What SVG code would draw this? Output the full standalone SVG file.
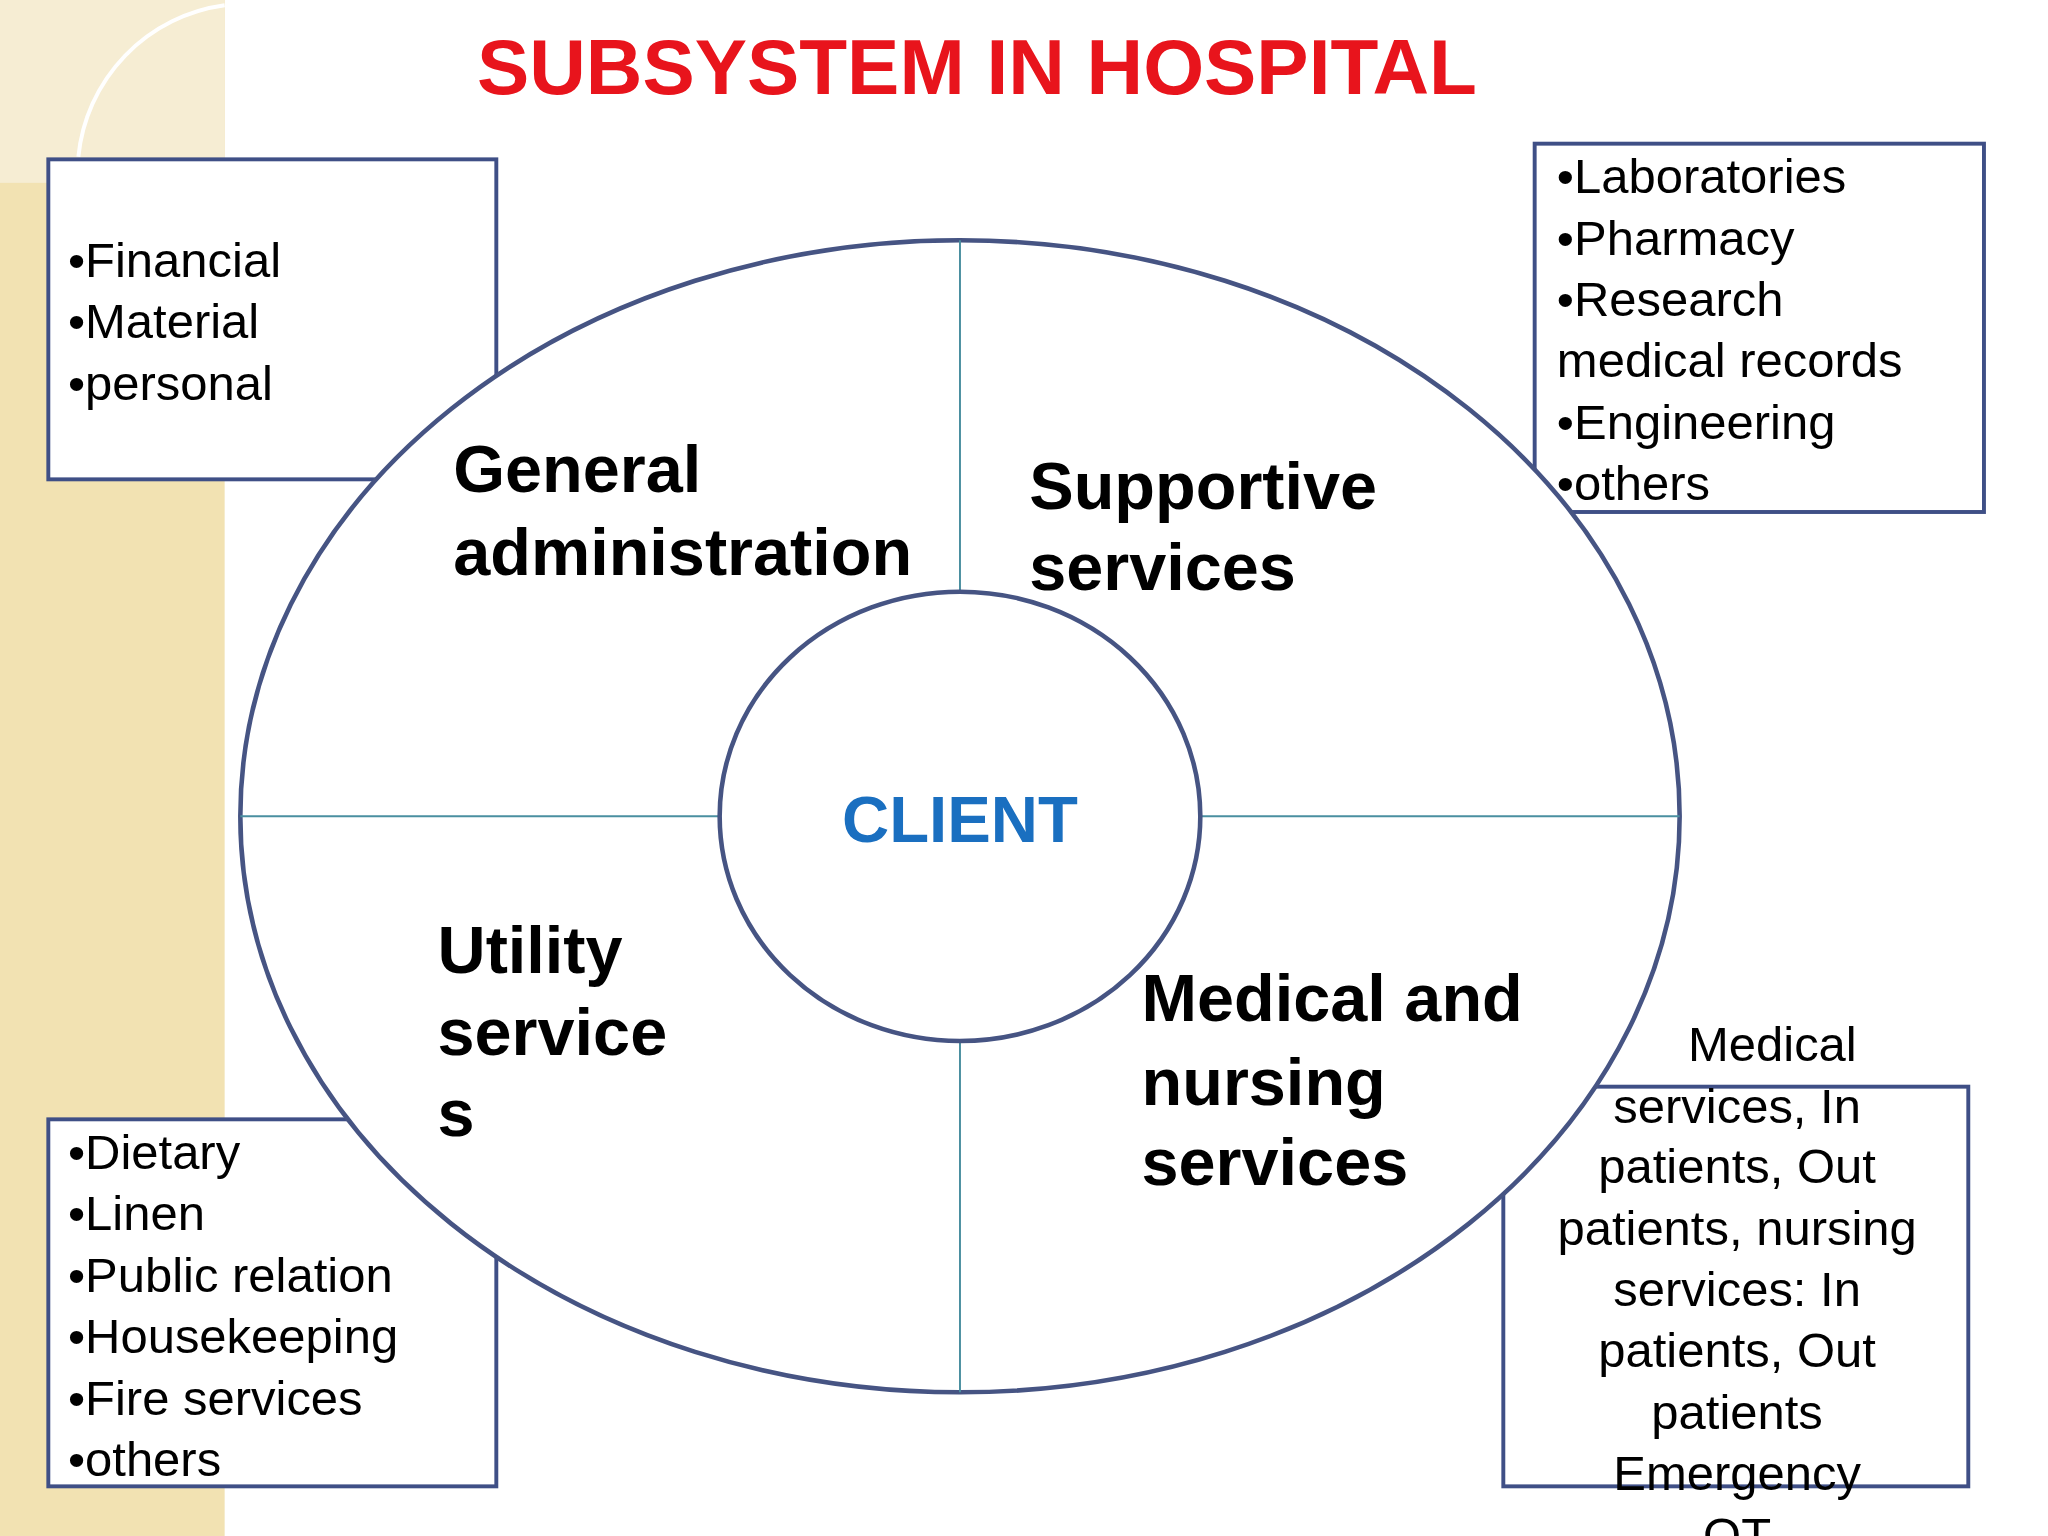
<svg xmlns="http://www.w3.org/2000/svg" width="2048" height="1536" viewBox="0 0 2048 1536">
<style>
.box{fill:#fff;stroke:#3f4f86;stroke-width:3}
.ring{fill:#fff;stroke:#465483;stroke-width:3.5}
.div{stroke:#4a8fa0;stroke-width:1.5}
.sec{font-family:"Liberation Sans",Arial,sans-serif;font-weight:bold;font-size:51px;fill:#000}
.lst{font-family:"Liberation Sans",Arial,sans-serif;font-size:37.5px;fill:#000}
</style>
<rect width="2048" height="1536" fill="#fff"/>
<g transform="scale(1.3061)">
<g id="background">
<rect x="0" y="0" width="172" height="1176" fill="#f2e2b2"/>
<rect x="0" y="0" width="172" height="140" fill="#f6edd3"/>
<path d="M172 4 A130 130 0 0 0 60 120" fill="none" stroke="#fff" stroke-width="3"/>
</g>
<text id="title" x="748" y="72" text-anchor="middle" font-family="Liberation Sans,Arial,sans-serif" font-weight="bold" font-size="60" fill="#e8141c">SUBSYSTEM IN HOSPITAL</text>
<g id="boxes">
<rect class="box" x="37" y="122" width="343" height="245"/>
<rect class="box" x="1175" y="110" width="344" height="282"/>
<rect class="box" x="37" y="857" width="343" height="281"/>
<rect class="box" x="1151" y="832" width="356" height="306"/>
</g>
<g id="outer"><ellipse class="ring" cx="735" cy="625" rx="551" ry="441"/></g>
<g id="connectors">
<line class="div" x1="735" y1="184" x2="735" y2="453"/>
<line class="div" x1="735" y1="797" x2="735" y2="1066"/>
<line class="div" x1="184" y1="625" x2="551" y2="625"/>
<line class="div" x1="919" y1="625" x2="1286" y2="625"/>
</g>
<g id="client"><ellipse class="ring" cx="735" cy="625" rx="184" ry="172"/>
<text x="735" y="645" text-anchor="middle" font-family="Liberation Sans,Arial,sans-serif" font-weight="bold" font-size="50" fill="#1a6fc0">CLIENT</text></g>
<g id="sections">
<text class="sec" x="347" y="377">General</text><text class="sec" x="347" y="440">administration</text>
<text class="sec" x="788" y="390">Supportive</text><text class="sec" x="788" y="452">services</text>
<text class="sec" x="335" y="745">Utility</text><text class="sec" x="335" y="808">service</text><text class="sec" x="335" y="870">s</text>
<text class="sec" x="874" y="782">Medical and</text><text class="sec" x="874" y="846">nursing</text><text class="sec" x="874" y="907">services</text>
</g>
<g id="lists">
<text class="lst" x="52" y="212">•Financial</text><text class="lst" x="52" y="259">•Material</text><text class="lst" x="52" y="306">•personal</text>
<text class="lst" x="1192" y="148">•Laboratories</text><text class="lst" x="1192" y="195">•Pharmacy</text><text class="lst" x="1192" y="242">•Research</text><text class="lst" x="1192" y="289">medical records</text><text class="lst" x="1192" y="336">•Engineering</text><text class="lst" x="1192" y="383">•others</text>
<text class="lst" x="52" y="895">•Dietary</text><text class="lst" x="52" y="942">•Linen</text><text class="lst" x="52" y="989">•Public relation</text><text class="lst" x="52" y="1036">•Housekeeping</text><text class="lst" x="52" y="1083">•Fire services</text><text class="lst" x="52" y="1130">•others</text>
<g text-anchor="middle">
<text class="lst" x="1357" y="812">Medical</text><text class="lst" x="1330" y="860">services, In</text><text class="lst" x="1330" y="906">patients, Out</text><text class="lst" x="1330" y="953">patients, nursing</text><text class="lst" x="1330" y="1000">services: In</text><text class="lst" x="1330" y="1047">patients, Out</text><text class="lst" x="1330" y="1094">patients</text><text class="lst" x="1330" y="1141">Emergency</text><text class="lst" x="1330" y="1188">OT</text>
</g>
</g>
</g>
</svg>
